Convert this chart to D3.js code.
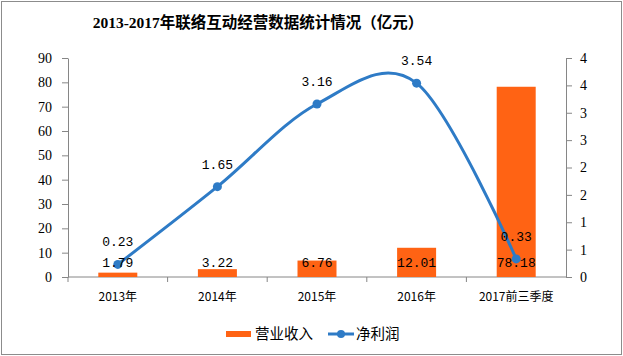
<!DOCTYPE html>
<html>
<head>
<meta charset="utf-8">
<script src="https://cdn.jsdelivr.net/npm/d3@7"></script>
<style>
  body { margin: 0; background: #fff; }
  svg { display: block; }
</style>
</head>
<body>
<svg></svg>
<script>
const categories = ['2013年', '2014年', '2015年', '2016年', '2017前三季度'];
const revenue = [1.79, 3.22, 6.76, 12.01, 78.18];
const profit = [0.23, 1.65, 3.16, 3.54, 0.33];
const leftTicks = [0, 10, 20, 30, 40, 50, 60, 70, 80, 90];
const rightTicks = [0, 0.5, 1, 1.5, 2, 2.5, 3, 3.5, 4];

const W = 623, H = 356;
const m = { left: 68, right: 57, top: 58, bottom: 79 };
const orange = '#ff6314', blue = '#2e7bc6', axisCol = '#868686';
const serif = '"Liberation Serif", "DejaVu Serif", serif';
const mono = '"Liberation Mono", "DejaVu Sans Mono", monospace';
const cjk = '"Noto Sans CJK SC", sans-serif';

const svg = d3.select('svg').attr('width', W).attr('height', H);

// outer frame
svg.append('rect')
    .attr('x', 1.5).attr('y', 1.5)
    .attr('width', W - 3).attr('height', H - 3)
    .attr('fill', 'none').attr('stroke', '#8c8c8c');

svg.append('text')
    .attr('x', 258).attr('y', 28)
    .attr('text-anchor', 'middle')
    .style('font-family', `${serif}, ${cjk}`)
    .style('font-size', '15.5px').style('font-weight', 'bold')
    .text('2013-2017年联络互动经营数据统计情况（亿元）');

const x = d3.scaleBand().domain(categories).range([m.left, W - m.right]);
const yL = d3.scaleLinear().domain([0, 90]).range([H - m.bottom, m.top]);
const yR = d3.scaleLinear().domain([0, 4]).range([H - m.bottom, m.top]);

const styleAxis = g => {
    g.select('.domain').attr('stroke', axisCol);
    g.selectAll('.tick line').attr('stroke', axisCol);
    g.selectAll('.tick text').attr('fill', '#000');
};

svg.append('g')
    .attr('transform', `translate(${m.left},0)`)
    .call(d3.axisLeft(yL).tickValues(leftTicks).tickSize(6).tickSizeOuter(0).tickPadding(10))
    .call(styleAxis)
    .call(g => g.selectAll('.tick text').style('font-family', serif).style('font-size', '14px'));

svg.append('g')
    .attr('transform', `translate(${W - m.right},0)`)
    .call(d3.axisRight(yR).tickValues(rightTicks).tickFormat(d3.format('.0f')).tickSize(6).tickSizeOuter(0).tickPadding(8))
    .call(styleAxis)
    .call(g => g.selectAll('.tick text').style('font-family', serif).style('font-size', '14px'));

// bottom axis with ticks at category boundaries
const xAxis = svg.append('g').attr('transform', `translate(0,${H - m.bottom})`);
xAxis.append('line')
    .attr('x1', m.left).attr('x2', W - m.right)
    .attr('stroke', axisCol);
xAxis.selectAll('line.b')
    .data(categories)
    .join('line')
    .attr('class', 'b')
    .attr('x1', d => x(d)).attr('x2', d => x(d))
    .attr('y1', 0).attr('y2', 5)
    .attr('stroke', axisCol);
xAxis.selectAll('text')
    .data(categories)
    .join('text')
    .attr('x', d => x(d) + x.bandwidth() / 2)
    .attr('y', 24)
    .attr('text-anchor', 'middle')
    .style('font-family', cjk).style('font-size', '12px')
    .text(d => d);

const barW = 39;
svg.selectAll('rect.bar')
    .data(revenue)
    .join('rect')
    .attr('class', 'bar')
    .attr('x', (d, i) => x(categories[i]) + x.bandwidth() / 2 - barW / 2)
    .attr('y', d => yL(d))
    .attr('width', barW)
    .attr('height', d => yL(0) - yL(d))
    .attr('fill', orange);

const line = d3.line()
    .x((d, i) => x(categories[i]) + x.bandwidth() / 2)
    .y(d => yR(d))
    .curve(d3.curveCardinal.tension(0));

svg.append('path')
    .datum(profit)
    .attr('d', line)
    .attr('fill', 'none')
    .attr('stroke', blue)
    .attr('stroke-width', 3);

svg.selectAll('circle.pt')
    .data(profit)
    .join('circle')
    .attr('class', 'pt')
    .attr('cx', (d, i) => x(categories[i]) + x.bandwidth() / 2)
    .attr('cy', d => yR(d))
    .attr('r', 4.5)
    .attr('fill', blue);

// bar labels sit inside base
svg.selectAll('text.bl')
    .data(revenue)
    .join('text')
    .attr('class', 'bl')
    .attr('x', (d, i) => x(categories[i]) + x.bandwidth() / 2)
    .attr('y', yL(0) - 10)
    .attr('text-anchor', 'middle')
    .style('font-family', mono).style('font-size', '13px')
    .text(d => d.toFixed(2));

svg.selectAll('text.pl')
    .data(profit)
    .join('text')
    .attr('class', 'pl')
    .attr('x', (d, i) => x(categories[i]) + x.bandwidth() / 2)
    .attr('y', d => yR(d) - 18)
    .attr('text-anchor', 'middle')
    .style('font-family', mono).style('font-size', '13px')
    .text(d => d.toFixed(2));

// legend
const lg = svg.append('g').attr('transform', 'translate(0,334)');
lg.append('rect').attr('x', 226).attr('y', -3).attr('width', 25).attr('height', 6).attr('fill', orange);
lg.append('text').attr('x', 255).attr('y', 5)
    .style('font-family', cjk).style('font-size', '14.5px').text('营业收入');
lg.append('line').attr('x1', 328).attr('x2', 354).attr('stroke', blue).attr('stroke-width', 3);
lg.append('circle').attr('cx', 341).attr('r', 4).attr('fill', blue);
lg.append('text').attr('x', 356).attr('y', 5)
    .style('font-family', cjk).style('font-size', '14.5px').text('净利润');
</script>
</body>
</html>
